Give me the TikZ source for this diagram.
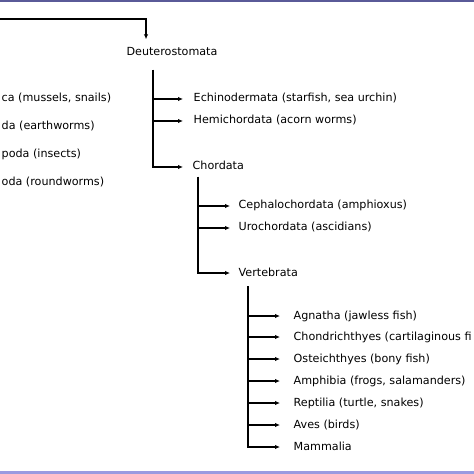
\documentclass[tikz,border=0pt]{standalone}
\usepackage{fontspec}
\setmainfont{DejaVu Sans}
\usepackage{xcolor}
\definecolor{colorTop}{HTML}{5A5A98}
\definecolor{colorBottom}{HTML}{9A9AE0}
\usetikzlibrary{arrows.meta, positioning}
\tikzset{taxon/.style={inner sep=0pt, text height=8bp, text depth=2bp, font=\fontsize{11.2}{13}\selectfont}}

\begin{document}
\begin{tikzpicture}[x=1bp, y=-1bp, line width=1.4bp, >={Latex[length=5bp,width=4.5bp]}, branch/.style={->, shorten >=#1}, branch/.default=10bp]
\useasboundingbox (0,0) rectangle (474,474);
\clip (0,0) rectangle (474,474);
\fill[colorTop] (0,0) rectangle (474,2);
\fill[colorBottom] (0,471) rectangle (474,474);
\node[taxon] (deut) at (172,53) {Deuterostomata};
\node[taxon, anchor=west] (moll) at (1,99) {ca (mussels, snails)};
\node[taxon, anchor=west] (anne) at (1,127) {da (earthworms)};
\node[taxon, anchor=west] (arth) at (1,155) {poda (insects)};
\node[taxon, anchor=west] (nema) at (1,183) {oda (roundworms)};
\node[taxon, anchor=west] (echi) at (193,99) {Echinodermata (starfish, sea urchin)};
\node[taxon, anchor=west] (hemi) at (193,121) {Hemichordata (acorn worms)};
\node[taxon, anchor=west] (chor) at (192,167) {Chordata};
\node[taxon, anchor=west] (ceph) at (238,206) {Cephalochordata (amphioxus)};
\node[taxon, anchor=west] (uroc) at (238,228) {Urochordata (ascidians)};
\node[taxon, anchor=west] (vert) at (238,273) {Vertebrata};
\node[taxon, anchor=west] (agna) at (293,316) {Agnatha (jawless fish)};
\node[taxon, anchor=west] (chon) at (293,337) {Chondrichthyes (cartilaginous fi};
\node[taxon, anchor=west] (oste) at (293,359) {Osteichthyes (bony fish)};
\node[taxon, anchor=west] (amph) at (293,381) {Amphibia (frogs, salamanders)};
\node[taxon, anchor=west] (rept) at (293,403) {Reptilia (turtle, snakes)};
\node[taxon, anchor=west] (aves) at (293,425) {Aves (birds)};
\node[taxon, anchor=west] (mamm) at (293,447) {Mammalia};
\coordinate (root) at (0,19);
\coordinate (deutbar) at (153,70);
\coordinate (chorbar) at (198,177);
\coordinate (vertbar) at (248,286);
\draw[branch=8bp] (root) -| ([xshift=-26bp]deut.north);
\draw[branch] (deutbar) |- (echi.west);
\draw[branch] (deutbar) |- (hemi.west);
\draw[branch=9bp] (deutbar) |- (chor.west);
\draw[branch=8bp] (chorbar) |- (ceph.west);
\draw[branch=8bp] (chorbar) |- (uroc.west);
\draw[branch=8bp] (chorbar) |- (vert.west);
\foreach \t in {agna, chon, oste, amph, rept, aves, mamm}
  \draw[branch=13bp] (vertbar) |- (\t.west);
\end{tikzpicture}
\end{document}
